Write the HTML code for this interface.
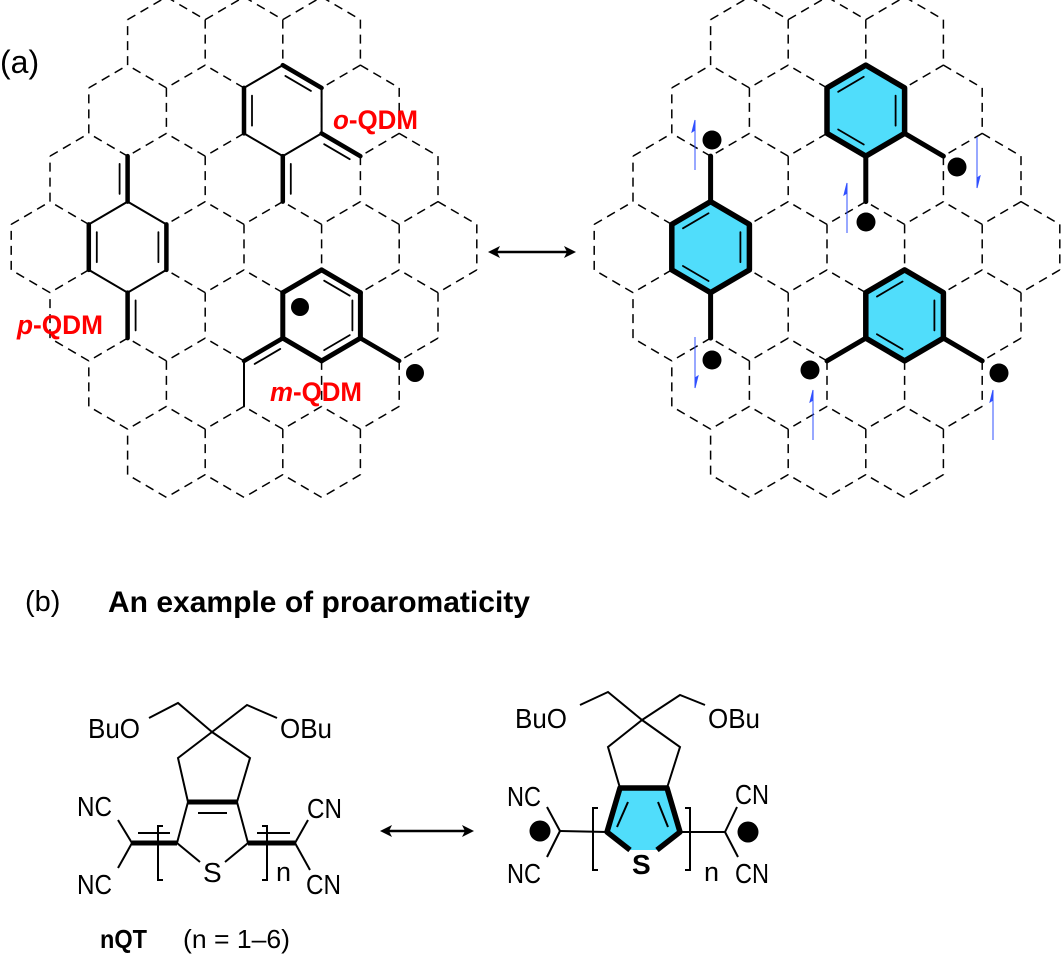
<!DOCTYPE html>
<html><head><meta charset="utf-8"><style>
html,body{margin:0;padding:0;background:#fff;}
svg{display:block;}
text{font-family:"Liberation Sans",sans-serif;}
</style></head><body>
<svg id="s" width="1061" height="958" viewBox="0 0 1061 958" xmlns="http://www.w3.org/2000/svg">
<g id="grid" stroke="#000" stroke-width="1.5" stroke-dasharray="9,6" fill="none"></g>
<g id="mol" stroke="#000" fill="none" stroke-linecap="round"></g>
<g id="dots" fill="#000"></g>
<g id="spins" stroke="#3050ff" fill="#3050ff" stroke-width="1"></g>

<text x="0" y="73" font-size="32">(a)</text>
<text x="333" y="129" font-size="27" font-weight="bold" fill="#f00" textLength="85" lengthAdjust="spacingAndGlyphs"><tspan font-style="italic">o</tspan>-QDM</text>
<text x="17" y="334" font-size="27" font-weight="bold" fill="#f00" textLength="86" lengthAdjust="spacingAndGlyphs"><tspan font-style="italic">p</tspan>-QDM</text>
<text x="270" y="401" font-size="27" font-weight="bold" fill="#f00" textLength="92" lengthAdjust="spacingAndGlyphs"><tspan font-style="italic">m</tspan>-QDM</text>

<g stroke="#000" stroke-width="2.5"><line x1="496" y1="252" x2="568" y2="252"/></g>
<polygon points="488,252 500,246 497,252 500,258" fill="#000"/>
<polygon points="576,252 564,246 567,252 564,258" fill="#000"/>

<text x="25" y="611" font-size="29">(b)</text>
<text x="108" y="612" font-size="30" font-weight="bold" textLength="422" lengthAdjust="spacingAndGlyphs">An example of proaromaticity</text>

<g stroke="#000" stroke-width="2" fill="none">
<polyline points="149,718 178,703 212,732 247,705 277,718"/>
<polyline points="212,732 178,758 188,802"/>
<polyline points="212,732 250,758 237,802"/>
<line x1="198" y1="813" x2="227" y2="813"/>
<polyline points="188,802 177,843 200,862"/>
<polyline points="237,802 248,843 225,862"/>
<line x1="138" y1="833" x2="170" y2="833"/>
<line x1="257" y1="833" x2="290" y2="833"/>
<line x1="132" y1="843" x2="118" y2="820"/>
<line x1="132" y1="843" x2="118" y2="868"/>
<line x1="295" y1="843" x2="308" y2="820"/>
<line x1="295" y1="843" x2="310" y2="870"/>
<polyline points="163,826 158,826 158,880 163,880"/>
<polyline points="262,826 267,826 267,880 262,880"/>
</g>
<g stroke="#000" stroke-width="5"><line x1="188" y1="802" x2="237" y2="802"/><line x1="132" y1="843" x2="177" y2="843"/><line x1="248" y1="843" x2="295" y2="843"/></g>
<g font-size="28">
<text x="88" y="738" textLength="52" lengthAdjust="spacingAndGlyphs">BuO</text><text x="280" y="738" textLength="52" lengthAdjust="spacingAndGlyphs">OBu</text>
<text x="77" y="816" textLength="35" lengthAdjust="spacingAndGlyphs">NC</text><text x="77" y="894" textLength="35" lengthAdjust="spacingAndGlyphs">NC</text>
<text x="307" y="818" textLength="35" lengthAdjust="spacingAndGlyphs">CN</text><text x="306" y="894" textLength="35" lengthAdjust="spacingAndGlyphs">CN</text>
<text x="203" y="882">S</text>
<text x="276" y="881" font-size="27">n</text>
</g>
<text x="100" y="948" font-size="26" font-weight="bold" textLength="47" lengthAdjust="spacingAndGlyphs">nQT</text>
<text x="183" y="948" font-size="26" textLength="107" lengthAdjust="spacingAndGlyphs">(n = 1–6)</text>

<line x1="388" y1="831" x2="466" y2="831" stroke="#000" stroke-width="2.5"/>
<polygon points="380,831 392,825 389,831 392,837" fill="#000"/>
<polygon points="474,831 462,825 465,831 462,837" fill="#000"/>

<polygon points="620,788 667,788 680,832 657,850 630,850 607,832" fill="#50ddfb"/>
<g stroke="#000" stroke-width="2" fill="none">
<polyline points="580,705 608,692 642,720 680,695 705,705"/>
<polyline points="642,720 608,747 620,788"/>
<polyline points="642,720 680,747 667,788"/>
<line x1="628" y1="802" x2="617" y2="827"/>
<line x1="658" y1="802" x2="668" y2="827"/>
<line x1="560" y1="831" x2="607" y2="832"/>
<line x1="680" y1="832" x2="725" y2="832"/>
<line x1="560" y1="831" x2="547" y2="807"/>
<line x1="560" y1="831" x2="547" y2="857"/>
<line x1="725" y1="832" x2="737" y2="807"/>
<line x1="725" y1="832" x2="738" y2="857"/>
<polyline points="598,808 593,808 593,870 598,870"/>
<polyline points="685,808 690,808 690,870 685,870"/>
</g>
<g stroke="#000" stroke-width="5.5" fill="none" stroke-linejoin="round"><polyline points="630,850 607,832 620,788 667,788 680,832 657,850"/></g>
<circle cx="540" cy="831" r="10.5" fill="#000"/>
<circle cx="748" cy="832" r="10.5" fill="#000"/>
<g font-size="28">
<text x="515" y="728" textLength="52" lengthAdjust="spacingAndGlyphs">BuO</text><text x="708" y="728" textLength="52" lengthAdjust="spacingAndGlyphs">OBu</text>
<text x="507" y="806" textLength="34" lengthAdjust="spacingAndGlyphs">NC</text><text x="507" y="883" textLength="34" lengthAdjust="spacingAndGlyphs">NC</text>
<text x="735" y="804" textLength="34" lengthAdjust="spacingAndGlyphs">CN</text><text x="735" y="883" textLength="34" lengthAdjust="spacingAndGlyphs">CN</text>
<text x="632" y="874" font-weight="bold">S</text>
<text x="704" y="881" font-size="27">n</text>
</g>
</svg>
<script>
(function(){
var NS="http://www.w3.org/2000/svg";
var S=45.5,W=38.8;
var rowsN=[3,4,5,6,5,4,3];
var grid=document.getElementById('grid'),mol=document.getElementById('mol'),dots=document.getElementById('dots'),spins=document.getElementById('spins');
function el(p,tag,a){var e=document.createElementNS(NS,tag);for(var k in a)e.setAttribute(k,a[k]);p.appendChild(e);return e;}
function V(c,i){var a=[[0,-S],[W,-S/2],[W,S/2],[0,S],[-W,S/2],[-W,-S/2]][i];return [c[0]+a[0],c[1]+a[1]];}
function drawGrid(ox){
 var seen={};
 for(var r=0;r<7;r++){var j=(6-rowsN[r]);
  for(var k=0;k<rowsN[r];k++){
   var ix=j+2*k, iy=3*r;
   var off=[[0,-2],[1,-1],[1,1],[0,2],[-1,1],[-1,-1]];
   for(var i=0;i<6;i++){var a=off[i],b=off[(i+1)%6];
    var P=[ix+a[0],iy+a[1]],Q=[ix+b[0],iy+b[1]];
    var k1=P.join(',')+'|'+Q.join(','),k2=Q.join(',')+'|'+P.join(',');
    if(seen[k1]||seen[k2])continue;seen[k1]=1;
    var p=[50+ox+P[0]*W, 42.4+P[1]*S/2],q=[50+ox+Q[0]*W, 42.4+Q[1]*S/2];
    el(grid,'line',{x1:p[0],y1:p[1],x2:q[0],y2:q[1]});}}}
}
drawGrid(0);drawGrid(583);
function L(p,q,w){el(mol,'line',{x1:p[0],y1:p[1],x2:q[0],y2:q[1],'stroke-width':w});}
function I(p,q,ref,off){off=off||8;var dx=q[0]-p[0],dy=q[1]-p[1],len=Math.hypot(dx,dy);var nx=-dy/len,ny=dx/len;
 var mx=(p[0]+q[0])/2,my=(p[1]+q[1])/2;if((ref[0]-mx)*nx+(ref[1]-my)*ny<0){nx=-nx;ny=-ny;}
 var sh=0.17;var a=[p[0]+dx*sh+nx*off,p[1]+dy*sh+ny*off],b=[q[0]-dx*sh+nx*off,q[1]-dy*sh+ny*off];
 el(mol,'line',{x1:a[0],y1:a[1],x2:b[0],y2:b[1],'stroke-width':1.8});}
function add(p,d){return [p[0]+d[0],p[1]+d[1]];}
var T=4.5,t=2;
var RY=function(r){return 42.4+r*1.5*S;};
var o=[50+6*W,RY(1)];
[[0,1,T,1],[1,2,t,0],[2,3,t,0],[3,4,t,0],[4,5,T,1],[5,0,t,0]].forEach(function(e){L(V(o,e[0]),V(o,e[1]),e[2]);if(e[3])I(V(o,e[0]),V(o,e[1]),o);});
var a=V(o,2),b=add(a,[W,S/2]);L(a,b,T);I(a,b,[a[0],a[1]+40]);
a=V(o,3);b=add(a,[0,S]);L(a,b,T);I(a,b,[a[0]+20,a[1]+20]);
var p=[50+2*W,RY(3)];
[[0,1,t,0],[1,2,T,1],[2,3,t,0],[3,4,t,0],[4,5,T,1],[5,0,t,0]].forEach(function(e){L(V(p,e[0]),V(p,e[1]),e[2]);if(e[3])I(V(p,e[0]),V(p,e[1]),p);});
a=V(p,0);b=add(a,[0,-S]);L(a,b,T);I(a,b,[a[0]-20,a[1]-20]);
a=V(p,3);b=add(a,[0,S]);L(a,b,T);I(a,b,[a[0]+20,a[1]+20]);
var m=[50+7*W,RY(4)];
[[0,1,1],[1,2,1],[2,3,1],[3,4,0],[4,5,0],[5,0,0]].forEach(function(e){L(V(m,e[0]),V(m,e[1]),5);if(e[2])I(V(m,e[0]),V(m,e[1]),m);});
a=V(m,4);b=add(a,[-W,S/2]);L(a,b,T);I(a,b,[a[0],a[1]+40]);L(b,add(b,[0,S]),t);
a=V(m,2);L(a,add(a,[W,S/2]),T);
el(dots,'circle',{cx:300,cy:307,r:9});el(dots,'circle',{cx:415,cy:373,r:9});
function ring(c,subs){
 var pts=[];for(var i=0;i<6;i++)pts.push(V(c,i).join(','));
 el(mol,'polygon',{points:pts.join(' '),fill:'#50ddfb',stroke:'#000','stroke-width':5.5,'stroke-linejoin':'round'});
 [[5,0],[1,2],[3,4]].forEach(function(e){I(V(c,e[0]),V(c,e[1]),c,9);});
 subs.forEach(function(s){var a=V(c,s[0]);L(a,add(a,s[1]),5);});
}
ring([633+6*W,RY(1)],[[3,[0,S]],[2,[W,S/2]]]);
ring([633+2*W,RY(3)],[[0,[0,-S]],[3,[0,S]]]);
ring([633+7*W,RY(4)],[[4,[-W,S/2]],[2,[W,S/2]]]);
[[712,140],[866,222],[957,167],[712,360],[810,370],[999,373]].forEach(function(d){el(dots,'circle',{cx:d[0],cy:d[1],r:9.5});});
function spin(x,y1,y2,up){el(spins,'line',{x1:x,y1:y1,x2:x,y2:y2});
 if(up)el(spins,'polygon',{points:x+','+y1+' '+(x-3)+','+(y1+12)+' '+x+','+(y1+10)});
 else el(spins,'polygon',{points:x+','+y2+' '+(x+3)+','+(y2-12)+' '+x+','+(y2-10)});}
spin(695,120,170,1);spin(847,183,233,1);spin(977,137,188,0);spin(695,337,388,0);spin(813,390,440,1);spin(993,390,440,1);
})();
</script>
</body></html>
